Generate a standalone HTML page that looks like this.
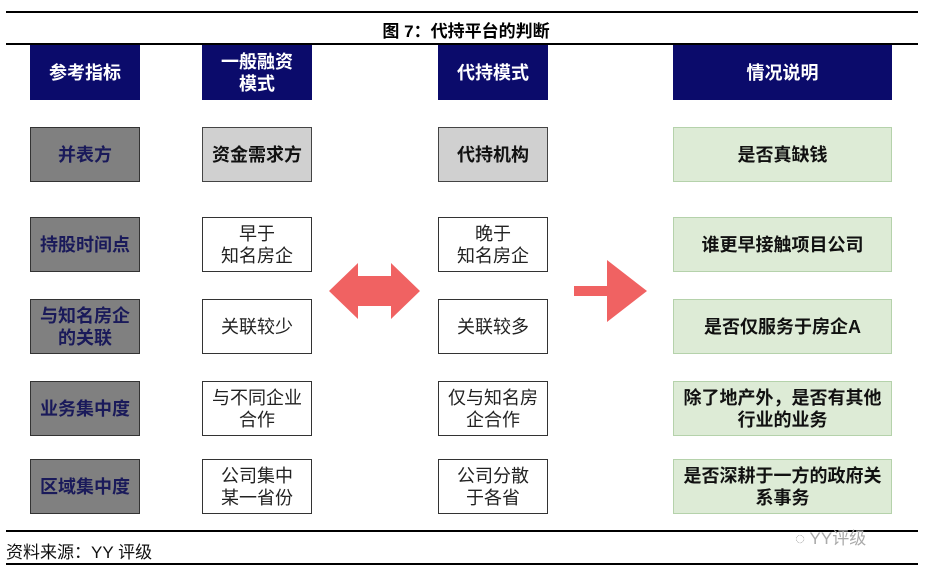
<!DOCTYPE html>
<html><head><meta charset="utf-8"><style>
body{margin:0;width:932px;height:576px;background:#fff;position:relative;overflow:hidden;font-family:"Liberation Sans","Noto Sans CJK SC",sans-serif}
.b{position:absolute;box-sizing:border-box;display:flex;align-items:center;justify-content:center;text-align:center;line-height:22px}
.h{background:#0b0b6b;color:#fff;font-weight:bold;font-size:18px}
.d{background:#808080;border:1.5px solid #333;color:#1a1a5a;font-weight:bold;font-size:18px}
.l{background:#d0d0d0;border:1.5px solid #444;color:#111;font-weight:bold;font-size:18px}
.w{background:#fff;border:1.5px solid #333;color:#222;font-size:18px}
.g{background:#ddebd6;border:1.5px solid #b5d2ab;color:#111;font-weight:bold;font-size:18px}
.line{position:absolute;left:6px;width:912px;background:#000}
</style></head><body>
<div class="line" style="top:11px;height:2px"></div>
<div class="line" style="top:43px;height:2px"></div>
<div style="position:absolute;left:0;width:932px;top:17px;text-align:center;font-weight:bold;font-size:17px">图 7：代持平台的判断</div>

<div class="b h" style="left:30px;top:45px;width:110px;height:55px">参考指标</div>
<div class="b h" style="left:202px;top:45px;width:110px;height:55px">一般融资<br>模式</div>
<div class="b h" style="left:438px;top:45px;width:110px;height:55px">代持模式</div>
<div class="b h" style="left:673px;top:45px;width:219px;height:55px">情况说明</div>

<div class="b d" style="left:30px;top:127px;width:110px;height:55px">并表方</div>
<div class="b l" style="left:202px;top:127px;width:110px;height:55px">资金需求方</div>
<div class="b l" style="left:438px;top:127px;width:110px;height:55px">代持机构</div>
<div class="b g" style="left:673px;top:127px;width:219px;height:55px">是否真缺钱</div>

<div class="b d" style="left:30px;top:217px;width:110px;height:55px">持股时间点</div>
<div class="b w" style="left:202px;top:217px;width:110px;height:55px">早于<br>知名房企</div>
<div class="b w" style="left:438px;top:217px;width:110px;height:55px">晚于<br>知名房企</div>
<div class="b g" style="left:673px;top:217px;width:219px;height:55px">谁更早接触项目公司</div>

<div class="b d" style="left:30px;top:299px;width:110px;height:55px">与知名房企<br>的关联</div>
<div class="b w" style="left:202px;top:299px;width:110px;height:55px">关联较少</div>
<div class="b w" style="left:438px;top:299px;width:110px;height:55px">关联较多</div>
<div class="b g" style="left:673px;top:299px;width:219px;height:55px">是否仅服务于房企A</div>

<div class="b d" style="left:30px;top:381px;width:110px;height:55px">业务集中度</div>
<div class="b w" style="left:202px;top:381px;width:110px;height:55px">与不同企业<br>合作</div>
<div class="b w" style="left:438px;top:381px;width:110px;height:55px">仅与知名房<br>企合作</div>
<div class="b g" style="left:673px;top:381px;width:219px;height:55px">除了地产外，是否有其他<br>行业的业务</div>

<div class="b d" style="left:30px;top:459px;width:110px;height:55px">区域集中度</div>
<div class="b w" style="left:202px;top:459px;width:110px;height:55px">公司集中<br>某一省份</div>
<div class="b w" style="left:438px;top:459px;width:110px;height:55px">公司分散<br>于各省</div>
<div class="b g" style="left:673px;top:459px;width:219px;height:55px">是否深耕于一方的政府关<br>系事务</div>

<svg style="position:absolute;left:0;top:0" width="932" height="576">
<polygon fill="#f06262" points="329,291 358,263 358,276 391,276 391,263 420,291 391,319 391,306 358,306 358,319"/>
<polygon fill="#f06262" points="574,286 607,286 607,260 647,291 607,322 607,296 574,296"/>
</svg>

<div class="line" style="top:530px;height:2px"></div>
<div class="line" style="top:563px;height:2px"></div>
<div style="position:absolute;left:6px;top:538px;font-size:17px;color:#111">资料来源：YY 评级</div>
<div style="position:absolute;left:795px;top:524px;font-size:17px;color:#aaa">◌ YY评级</div>
</body></html>
